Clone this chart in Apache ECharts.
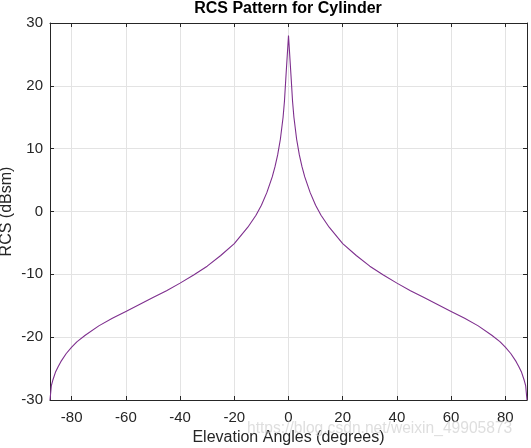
<!DOCTYPE html>
<html>
<head>
<meta charset="utf-8">
<script src="https://cdn.jsdelivr.net/npm/echarts@6/dist/echarts.min.js"></script>
<style>
html,body{margin:0;padding:0;background:#fff;}
#chart{width:531px;height:448px;}
</style>
</head>
<body>
<div id="chart"></div>
<script>
// Elevation angles (degrees)
var angles = [-88, -87.5, -87, -86, -85, -84, -82, -80, -78, -75, -70, -65, -60, -55, -50, -45, -40, -35, -30, -25, -20, -15, -12, -10, -8, -6, -5, -4, -3, -2, -1.5, -1,
  0,
  1, 1.5, 2, 3, 4, 5, 6, 8, 10, 12, 15, 20, 25, 30, 35, 40, 45, 50, 55, 60, 65, 70, 75, 78, 80, 82, 84, 85, 86, 87, 87.5, 88];
// RCS (dBsm)
var rcs = [-30, -27.7, -26.9, -25.6, -24.7, -23.9, -22.6, -21.6, -20.7, -19.7, -18.2, -17.0, -15.9, -14.8, -13.7, -12.6, -11.4, -10.1, -8.7, -7.0, -5.1, -2.5, -0.6, 1.0, 3.0, 5.5, 7.1, 9.0, 11.5, 15.0, 17.5, 21.1,
  28,
  21.1, 17.5, 15.0, 11.5, 9.0, 7.1, 5.5, 3.0, 1.0, -0.6, -2.5, -5.1, -7.0, -8.7, -10.1, -11.4, -12.6, -13.7, -14.8, -15.9, -17.0, -18.2, -19.7, -20.7, -21.6, -22.6, -23.9, -24.7, -25.6, -26.9, -27.7, -30];
var xTicks = [-80, -60, -40, -20, 0, 20, 40, 60, 80];
var yTicks = [-30, -20, -10, 0, 10, 20, 30];

var titleText = 'RCS Pattern for Cylinder';
var xName = 'Elevation Angles (degrees)';
var yName = 'RCS (dBsm)';
var watermark = 'https://blog.csdn.net/weixin_49905873';

var font = "'Liberation Sans', Arial, Helvetica, sans-serif";
var axisColor = '#262626';
var gridColor = '#e3e3e3';

var data = angles.map(function (a, i) { return [a, rcs[i]]; });

var chart = echarts.init(document.getElementById('chart'), null, {renderer: 'canvas'});
chart.setOption({
  animation: false,
  backgroundColor: '#ffffff',
  grid: {left: 50, right: 4, top: 23, bottom: 48, containLabel: false, outerBoundsMode: 'none'},
  xAxis: [{
    type: 'value', min: -88, max: 88, position: 'bottom',
    name: xName, nameLocation: 'middle', nameGap: 30, nameMoveOverlap: false,
    nameTextStyle: {fontFamily: font, fontSize: 16, color: axisColor},
    axisLine: {show: true, onZero: false, lineStyle: {color: axisColor, width: 1}},
    axisTick: {show: true, inside: true, length: 4, customValues: xTicks, lineStyle: {color: axisColor}},
    axisLabel: {show: true, customValues: xTicks, margin: 10, fontFamily: font, fontSize: 15, color: axisColor},
    splitLine: {show: true, lineStyle: {color: gridColor, width: 1}}
  }, {
    type: 'value', min: -88, max: 88, position: 'top',
    axisLine: {show: true, onZero: false, lineStyle: {color: axisColor, width: 1}},
    axisTick: {show: true, inside: true, length: 4, customValues: xTicks, lineStyle: {color: axisColor}},
    axisLabel: {show: false},
    splitLine: {show: false}
  }],
  yAxis: [{
    type: 'value', min: -30, max: 30, interval: 10, position: 'left',
    name: yName, nameLocation: 'middle', nameGap: 35, nameMoveOverlap: false,
    nameTextStyle: {fontFamily: font, fontSize: 16, color: axisColor},
    axisLine: {show: true, onZero: false, lineStyle: {color: axisColor, width: 1}},
    axisTick: {show: true, inside: true, length: 4, customValues: yTicks, lineStyle: {color: axisColor}},
    axisLabel: {show: true, customValues: yTicks, margin: 7, fontFamily: font, fontSize: 15, color: axisColor},
    splitLine: {show: true, lineStyle: {color: gridColor, width: 1}}
  }, {
    type: 'value', min: -30, max: 30, interval: 10, position: 'right',
    axisLine: {show: true, onZero: false, lineStyle: {color: axisColor, width: 1}},
    axisTick: {show: true, inside: true, length: 4, customValues: yTicks, lineStyle: {color: axisColor}},
    axisLabel: {show: false},
    splitLine: {show: false}
  }],
  series: [{
    type: 'line',
    xAxisIndex: 0, yAxisIndex: 0,
    data: data,
    showSymbol: false,
    smooth: false,
    lineStyle: {color: '#7E2F8E', width: 1.1},
    itemStyle: {color: '#7E2F8E'},
    z: 3
  }],
  graphic: [{
    type: 'text', x: 288, y: 9,
    style: {text: titleText, fontFamily: font, fontSize: 16, fontWeight: 'bold', fill: '#000000', textAlign: 'center', textVerticalAlign: 'middle'}
  }, {
    type: 'text', x: 247, y: 429, z: 100,
    style: {text: watermark, fontFamily: font, fontSize: 15.6, fill: 'rgba(200,200,200,0.6)', textAlign: 'left', textVerticalAlign: 'middle'}
  }]
});
</script>
</body>
</html>
